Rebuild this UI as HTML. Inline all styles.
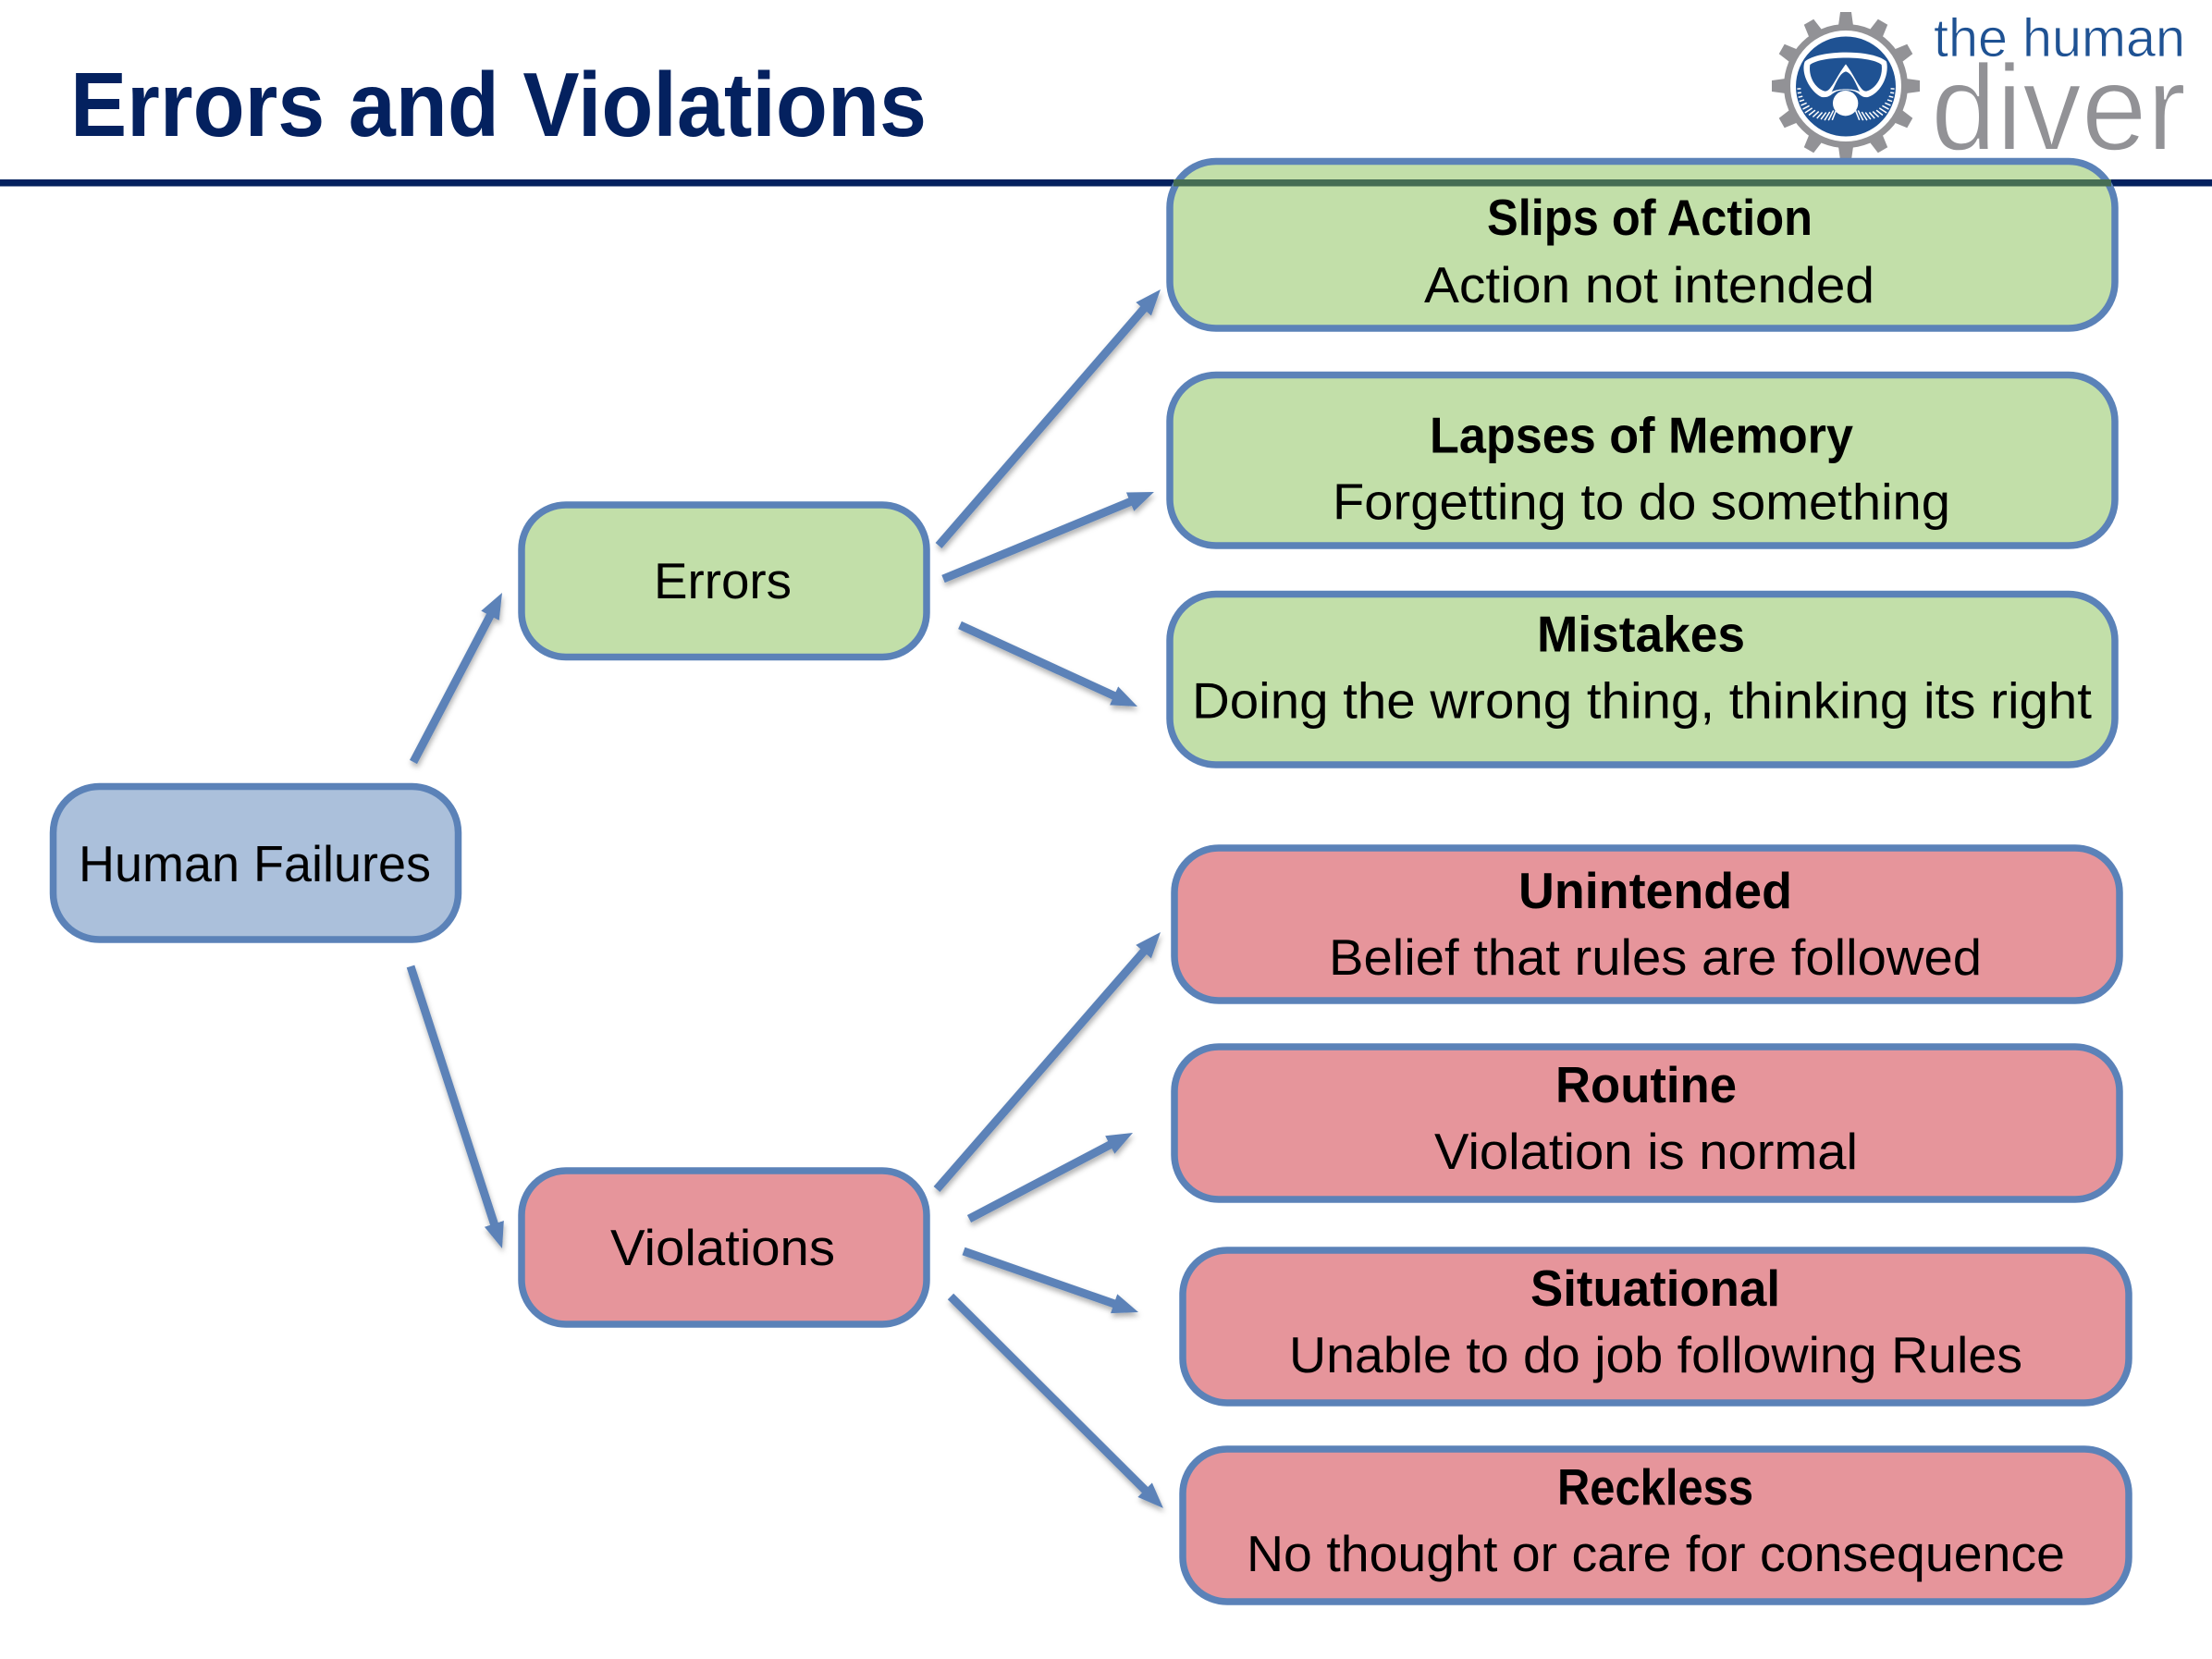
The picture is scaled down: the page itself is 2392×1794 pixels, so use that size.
<!DOCTYPE html>
<html><head><meta charset="utf-8">
<style>
html,body{margin:0;padding:0;background:#fff;width:2392px;height:1794px;overflow:hidden}
svg{display:block}
text{font-family:"Liberation Sans",sans-serif;fill:#000}
.b{font-weight:bold}
.box{stroke:#5b82b8;stroke-width:7.5}
.g{fill:#c2dfa9}.r{fill:#e6959b}.u{fill:#abc0db}
.ar{stroke:#5b82b8;stroke-width:9;fill:none;marker-end:url(#ah)}
</style></head><body>
<svg width="2392" height="1794" viewBox="0 0 2392 1794" xmlns="http://www.w3.org/2000/svg">
<defs>
<marker id="ah" markerUnits="userSpaceOnUse" markerWidth="40" markerHeight="40" refX="14" refY="20" orient="auto" viewBox="0 0 40 40">
<path d="M0,9 L28,20 L0,31 Z" fill="#5b82b8"/></marker>
<filter id="sh" x="-20%" y="-20%" width="140%" height="140%"><feDropShadow dx="1" dy="4" stdDeviation="3" flood-color="#000" flood-opacity="0.3"/></filter>
</defs>
<rect width="2392" height="1794" fill="#fff"/>
<text class="b" x="76" y="147" font-size="98" textLength="926" lengthAdjust="spacingAndGlyphs" style="fill:#04215f">Errors and Violations</text>
<rect x="0" y="194" width="2392" height="7.5" fill="#04215f"/>

<!-- logo -->
<g fill="#929296">
<circle cx="1996" cy="93" r="67"/>
<g id="teeth">
<path id="t" d="M1987,35 L1990,13 L2002,13 L2005,35 Z"/>
<path d="M1987,35 L1990,13 L2002,13 L2005,35 Z" transform="rotate(30 1996 93)"/>
<path d="M1987,35 L1990,13 L2002,13 L2005,35 Z" transform="rotate(60 1996 93)"/>
<path d="M1987,35 L1990,13 L2002,13 L2005,35 Z" transform="rotate(90 1996 93)"/>
<path d="M1987,35 L1990,13 L2002,13 L2005,35 Z" transform="rotate(120 1996 93)"/>
<path d="M1987,35 L1990,13 L2002,13 L2005,35 Z" transform="rotate(150 1996 93)"/>
<path d="M1987,35 L1990,13 L2002,13 L2005,35 Z" transform="rotate(180 1996 93)"/>
<path d="M1987,35 L1990,13 L2002,13 L2005,35 Z" transform="rotate(210 1996 93)"/>
<path d="M1987,35 L1990,13 L2002,13 L2005,35 Z" transform="rotate(240 1996 93)"/>
<path d="M1987,35 L1990,13 L2002,13 L2005,35 Z" transform="rotate(270 1996 93)"/>
<path d="M1987,35 L1990,13 L2002,13 L2005,35 Z" transform="rotate(300 1996 93)"/>
<path d="M1987,35 L1990,13 L2002,13 L2005,35 Z" transform="rotate(330 1996 93)"/>
</g>
</g>
<circle cx="1996" cy="93" r="60" fill="#fff"/>
<circle cx="1996" cy="93.5" r="54" fill="#1f5293"/>
<g transform="translate(1880,0) scale(0.3333)">
<path d="M215,200 C260,160 440,160 480,200 C490,240 465,300 420,315 C400,318 395,305 380,298 C365,290 330,290 315,298 C300,305 295,318 270,315 C235,300 200,240 215,200 Z" fill="#fff"/>
<path d="M232,210 C270,180 430,180 464,210 C470,250 445,288 415,296 C395,298 380,250 348,208 C316,250 300,298 280,296 C250,288 226,250 232,210 Z" fill="#1f5293"/>
<path d="M348,232 C325,237 312,283 302,298 C322,286 374,286 394,298 C384,283 371,237 348,232 Z" fill="#1f5293"/>
<circle cx="347" cy="335" r="41" fill="#fff"/>
<g id="ln" stroke="#fff" stroke-width="4.5">
<line x1="146" y1="280" x2="158" y2="280" transform="translate(348,280) rotate(3) translate(-0,-280)"/>
<line x1="146" y1="280" x2="158" y2="280" transform="translate(348,280) rotate(8) translate(0,-280)"/>
<line x1="144" y1="280" x2="158" y2="280" transform="translate(348,280) rotate(13) translate(0,-280)"/>
<line x1="142" y1="280" x2="158" y2="280" transform="translate(348,280) rotate(18) translate(0,-280)"/>
<line x1="138" y1="280" x2="158" y2="280" transform="translate(348,280) rotate(23) translate(0,-280)"/>
<line x1="134" y1="280" x2="158" y2="280" transform="translate(348,280) rotate(28) translate(0,-280)"/>
<line x1="130" y1="280" x2="158" y2="280" transform="translate(348,280) rotate(33) translate(0,-280)"/>
<line x1="126" y1="280" x2="152" y2="280" transform="translate(348,280) rotate(38) translate(0,-280)"/>
<line x1="120" y1="280" x2="146" y2="280" transform="translate(348,280) rotate(43) translate(0,-280)"/>
<line x1="114" y1="280" x2="140" y2="280" transform="translate(348,280) rotate(48) translate(0,-280)"/>
<line x1="106" y1="280" x2="134" y2="280" transform="translate(348,280) rotate(53) translate(0,-280)"/>
<line x1="98" y1="280" x2="130" y2="280" transform="translate(348,280) rotate(58) translate(0,-280)"/>
<line x1="88" y1="280" x2="124" y2="280" transform="translate(348,280) rotate(63) translate(0,-280)"/>
<line x1="78" y1="280" x2="118" y2="280" transform="translate(348,280) rotate(68) translate(0,-280)"/>
</g>
<use href="#ln" transform="translate(696,0) scale(-1,1)"/>
</g>
<text x="2091" y="61" font-size="58" textLength="272" lengthAdjust="spacingAndGlyphs" style="fill:#1f5293;stroke:#fff;stroke-width:0.8;paint-order:normal">the human</text>
<text x="2088" y="162" font-size="132" textLength="276" lengthAdjust="spacingAndGlyphs" style="fill:#929296;stroke:#fff;stroke-width:2">diver</text>

<!-- arrows -->
<g filter="url(#sh)">
<line class="ar" x1="447" y1="824" x2="536.5" y2="653.4"/>
<line class="ar" x1="444" y1="1045" x2="538.7" y2="1336.7"/>
<line class="ar" x1="1015" y1="590" x2="1245.8" y2="323.6"/>
<line class="ar" x1="1020" y1="626" x2="1235" y2="537.3"/>
<line class="ar" x1="1038" y1="676" x2="1217.3" y2="758.2"/>
<line class="ar" x1="1013" y1="1286" x2="1245.8" y2="1018.6"/>
<line class="ar" x1="1048" y1="1318" x2="1212.6" y2="1231.5"/>
<line class="ar" x1="1042" y1="1353" x2="1217.8" y2="1414.4"/>
<line class="ar" x1="1028" y1="1402" x2="1248" y2="1621"/>
</g>

<!-- boxes -->
<rect class="box u" x="57.5" y="850.5" width="438" height="165.5" rx="50"/>
<text x="85" y="953" font-size="55" textLength="381" lengthAdjust="spacingAndGlyphs">Human Failures</text>

<rect class="box g" x="564" y="546" width="438" height="164.5" rx="48"/>
<text x="707" y="647" font-size="55" textLength="149" lengthAdjust="spacingAndGlyphs">Errors</text>

<rect class="box r" x="564" y="1266" width="438" height="166" rx="48"/>
<text x="660" y="1368" font-size="55" textLength="243" lengthAdjust="spacingAndGlyphs">Violations</text>

<rect class="box g" x="1265" y="174.5" width="1022" height="180.5" rx="50"/>
<rect x="1269" y="194" width="1014" height="7.5" fill="#456d54"/>
<text class="b" x="1608" y="254" font-size="55" textLength="352" lengthAdjust="spacingAndGlyphs">Slips of Action</text>
<text x="1540" y="327" font-size="55" textLength="487" lengthAdjust="spacingAndGlyphs">Action not intended</text>

<rect class="box g" x="1265" y="405.5" width="1022" height="184.5" rx="50"/>
<text class="b" x="1546" y="489.5" font-size="55" textLength="458" lengthAdjust="spacingAndGlyphs">Lapses of Memory</text>
<text x="1441" y="561.5" font-size="55" textLength="668" lengthAdjust="spacingAndGlyphs">Forgetting to do something</text>

<rect class="box g" x="1265" y="642.5" width="1022" height="184.5" rx="50"/>
<text class="b" x="1662" y="704.5" font-size="55" textLength="225" lengthAdjust="spacingAndGlyphs">Mistakes</text>
<text x="1289" y="776.5" font-size="55" textLength="973" lengthAdjust="spacingAndGlyphs">Doing the wrong thing, thinking its right</text>

<rect class="box r" x="1270" y="917" width="1022" height="165" rx="48"/>
<text class="b" x="1642" y="982" font-size="55" textLength="296" lengthAdjust="spacingAndGlyphs">Unintended</text>
<text x="1437" y="1054" font-size="55" textLength="706" lengthAdjust="spacingAndGlyphs">Belief that rules are followed</text>

<rect class="box r" x="1270" y="1132" width="1022" height="165" rx="48"/>
<text class="b" x="1682" y="1192" font-size="55" textLength="196" lengthAdjust="spacingAndGlyphs">Routine</text>
<text x="1551" y="1264" font-size="55" textLength="458" lengthAdjust="spacingAndGlyphs">Violation is normal</text>

<rect class="box r" x="1279" y="1352" width="1023" height="165" rx="48"/>
<text class="b" x="1655" y="1412" font-size="55" textLength="270" lengthAdjust="spacingAndGlyphs">Situational</text>
<text x="1394" y="1484" font-size="55" textLength="793" lengthAdjust="spacingAndGlyphs">Unable to do job following Rules</text>

<rect class="box r" x="1279" y="1567" width="1023" height="165" rx="48"/>
<text class="b" x="1684" y="1627" font-size="55" textLength="212" lengthAdjust="spacingAndGlyphs">Reckless</text>
<text x="1348" y="1699" font-size="55" textLength="885" lengthAdjust="spacingAndGlyphs">No thought or care for consequence</text>
</svg>
</body></html>
